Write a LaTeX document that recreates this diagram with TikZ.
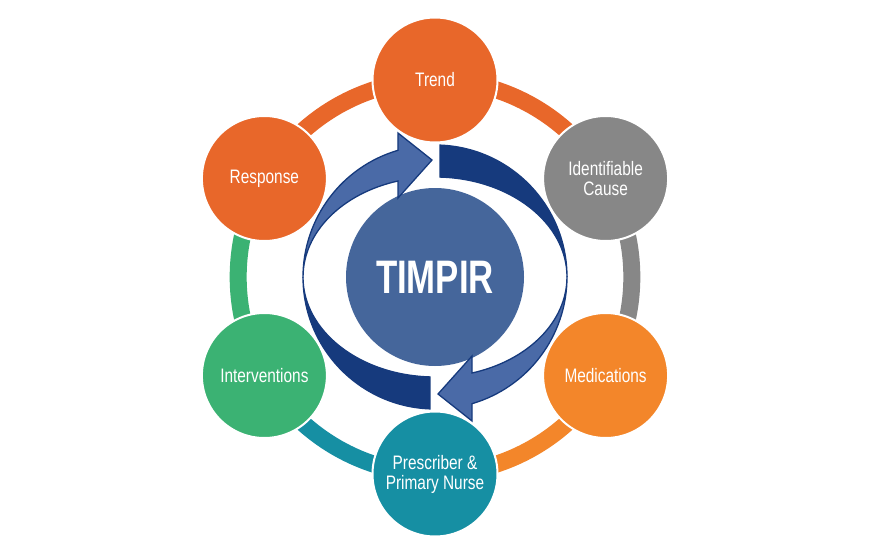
\documentclass[tikz,border=0pt]{standalone}
\usepackage{fontspec}
\setmainfont{Liberation Sans}[FakeStretch=0.79]
\newfontfamily\titlefont{Liberation Sans}[FakeStretch=0.74]
\usetikzlibrary{calc}
\definecolor{orA}{HTML}{E8672A}
\definecolor{orB}{HTML}{F3862A}
\definecolor{grayC}{HTML}{878787}
\definecolor{tealC}{HTML}{168FA3}
\definecolor{greenC}{HTML}{3BB273}
\definecolor{centerC}{HTML}{45669B}
\definecolor{lightA}{HTML}{4A6AA7}
\definecolor{darkA}{HTML}{163A7D}
\tikzset{
  bubble/.style={circle, minimum size=125pt, inner sep=0pt, draw=white, line width=2pt,
    text=white, align=center, font=\fontsize{19.5}{20}\selectfont},
  ringseg/.style={line width=17pt, bend left=30, looseness=0.91},
  lightarrow/.style={fill=lightA, draw=darkA, line width=1.3pt, line join=miter},
  darkband/.style={fill=darkA, draw=darkA, line width=1.3pt},
}
\begin{document}
\begin{tikzpicture}[x=1pt,y=1pt]
\useasboundingbox (0,0) rectangle (870,550);
\coordinate (C) at (435,273);
% outer node positions
\path ($(C)+(90:197)$) coordinate (pt);
\path ($(C)+(30:197)$) coordinate (pic);
\path ($(C)+(-30:197)$) coordinate (pmed);
\path ($(C)+(-90:197)$) coordinate (ppres);
\path ($(C)+(210:197)$) coordinate (pint);
\path ($(C)+(150:197)$) coordinate (presp);
% ring segments
\draw[ringseg, orA] (pt) to (pic);
\draw[ringseg, grayC] (pic) to (pmed);
\draw[ringseg, orB] (pmed) to (ppres);
\draw[ringseg, tealC] (ppres) to (pint);
\draw[ringseg, greenC] (pint) to (presp);
\draw[ringseg, orA] (presp) to (pt);
% bubbles
\node[bubble, fill=orA] (trend) at (pt) {Trend};
\node[bubble, fill=grayC] (ic) at (pic) {Identifiable\\Cause};
\node[bubble, fill=orB] (med) at (pmed) {Medications};
\node[bubble, fill=tealC] (pres) at (ppres) {Prescriber \&\\Primary Nurse};
\node[bubble, fill=greenC] (int) at (pint) {Interventions};
\node[bubble, fill=orA] (resp) at (presp) {Response};
% center
\node[circle, minimum size=178pt, inner sep=0pt, fill=centerC, text=white,
  font=\titlefont\bfseries\fontsize{47}{47}\selectfont] (timpir) at (C) {TIMPIR};
% circular arrows
\begin{scope}[shift={(C)}]
  \foreach \r in {0,180}{
    \begin{scope}[rotate=\r]
      \path[darkband] (87.8:132) arc[start angle=87.8, end angle=0, radius=132]
        arc[start angle=0, end angle=87.8, x radius=132, y radius=100] -- cycle;
      \path[lightarrow] (180:132) arc[start angle=180, end angle=106.3, radius=132]
        -- (-37,144) -- (-3,117) -- (-37,79) -- (-37,96)
        arc[start angle=106.3, end angle=180, x radius=132, y radius=100] -- cycle;
    \end{scope}
  }
\end{scope}
\end{tikzpicture}
\end{document}
